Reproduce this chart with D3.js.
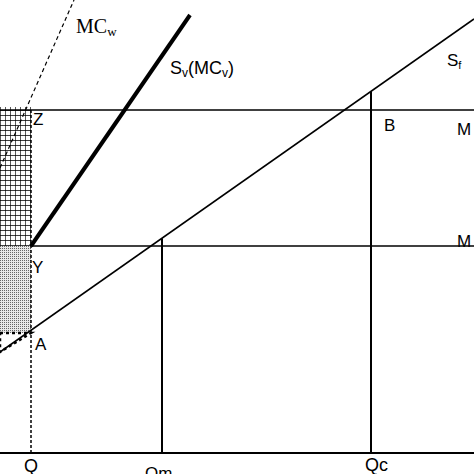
<!DOCTYPE html>
<html><head><meta charset="utf-8">
<script src="https://cdn.jsdelivr.net/npm/d3@7"></script>
<style>body{margin:0;background:#fff}</style></head>
<body><div id="chart"></div>
<script>
// quantities and prices (diagram units)
const qLabels = ["Q", "Qm", "Qc"];
const qValues = [3.1, 16.2, 37.1];
const priceLabels = ["Z", "Y", "A"];
const priceValues = [34.3, 20.7, 12.0];
const sfLine = [[0, 10.1], [47.4, 43.4]];
const svLine = [[3.1, 20.7], [19.0, 43.8]];
const mcwLine = [[0, 28.5], [7.4, 45.3]];

const W = 474, H = 474;
const x = d3.scaleLinear().domain([0, 47.4]).range([0, 474]);
const y = d3.scaleLinear().domain([0, 45.3]).range([453, 0]);

const svg = d3.select("#chart").append("svg").attr("width", W).attr("height", H);
const defs = svg.append("defs");
const grid = defs.append("pattern").attr("id", "grid").attr("patternUnits", "userSpaceOnUse")
  .attr("width", 5).attr("height", 5);
grid.append("rect").attr("width", 5).attr("height", 5).attr("fill", "#fff");
grid.append("path").attr("d", "M0,0H5M0,0V5").attr("stroke", "#000").attr("stroke-width", 1.3);
const dots = defs.append("pattern").attr("id", "dots").attr("patternUnits", "userSpaceOnUse")
  .attr("width", 2).attr("height", 2);
dots.append("rect").attr("width", 2).attr("height", 2).attr("fill", "#e8e8e8");
dots.append("rect").attr("width", 1).attr("height", 1).attr("fill", "#666");

const [qQ, qM, qC] = qValues;
const [pZ, pY, pA] = priceValues;
const sf = d3.scaleLinear().domain(sfLine.map(d => d[0])).range(sfLine.map(d => d[1]));

// shaded areas
svg.append("rect").attr("x", x(0)).attr("y", y(pZ) - 3).attr("width", x(qQ) - x(0))
  .attr("height", y(pY) - y(pZ) + 3).attr("fill", "url(#grid)");
svg.append("rect").attr("x", x(0)).attr("y", y(pY)).attr("width", x(qQ) - x(0))
  .attr("height", y(pA) - y(pY)).attr("fill", "url(#dots)");
svg.append("path").attr("d", `M${x(0)},${y(pA)}L${x(qQ)},${y(pA)}L${x(0)},${y(sf(0))}Z`)
  .attr("fill", "#fff").attr("stroke", "#000").attr("stroke-width", 2.5).attr("stroke-dasharray", "3,3");

const line = d3.line().x(d => x(d[0])).y(d => y(d[1]));
const seg = (pts, w, dash) => svg.append("path").attr("d", line(pts)).attr("fill", "none")
  .attr("stroke", "#000").attr("stroke-width", w).attr("stroke-dasharray", dash || null);

// axis
seg([[0, 0], [47.4, 0]], 2);
// horizontal price lines
seg([[0, pZ], [47.4, pZ]], 1.5);
seg([[qQ, pY], [47.4, pY]], 1.5);
// verticals
seg([[qQ, 0], [qQ, pZ]], 1.5, "3,2");
seg([[qM, 0], [qM, sf(qM)]], 2);
seg([[qC, 0], [qC, sf(qC)]], 2);
// curves
seg(sfLine, 1.6);
seg(svLine, 4);
seg(mcwLine, 1.2, "4,3");

const txt = (t, px, py, size, fam) => svg.append("text").attr("x", px).attr("y", py)
  .attr("font-family", fam || "Liberation Sans, Arial, sans-serif").attr("font-size", size).text(t);

txt("Z", x(qQ) + 2, y(pZ) + 15, 17);
txt("B", x(qC) + 13, y(pZ) + 21, 17);
txt("Y", x(qQ) + 1, y(pY) + 27, 17);
txt("A", x(qQ) + 4, y(pA) + 17, 17);
txt("M", 457, y(pZ) + 25, 17);
txt("M", 457, y(pY) + 1, 17);
txt("Q", x(qQ) - 7, 472, 18);
txt("Qm", x(qM) - 17, 479, 17);
txt("Qc", x(qC) - 6, 471, 18);

const mc = txt("MC", 76, 33, 20, "Liberation Serif, Times New Roman, serif");
mc.append("tspan").attr("font-size", 13).attr("dy", 3).text("w");
const sv = txt("S", 170, 74, 18);
sv.append("tspan").attr("font-size", 12).attr("dy", 3).text("v");
sv.append("tspan").attr("dy", -3).text("(MC");
sv.append("tspan").attr("font-size", 12).attr("dy", 3).text("v");
sv.append("tspan").attr("dy", -3).text(")");
const sft = txt("S", 447, 66, 17);
sft.append("tspan").attr("font-size", 11).attr("dy", 3).text("f");
</script></body></html>
